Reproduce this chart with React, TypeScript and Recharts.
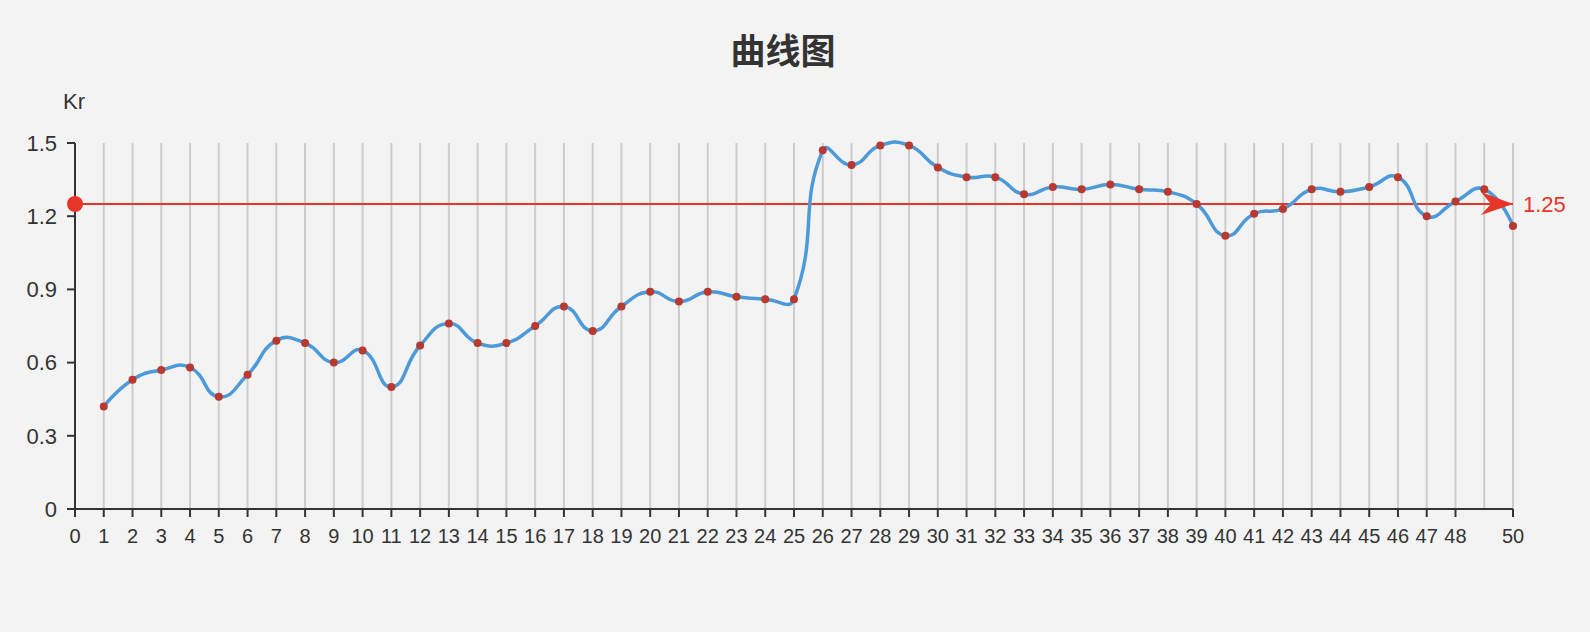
import { LineChart, Line, XAxis, YAxis, CartesianGrid, ReferenceLine, ReferenceDot } from 'recharts'

// 横轴 1..50 的测点和对应的 Kr 值
const xValues = [
    1, 2, 3, 4, 5, 6, 7, 8, 9, 10,
    11, 12, 13, 14, 15, 16, 17, 18, 19, 20,
    21, 22, 23, 24, 25, 26, 27, 28, 29, 30,
    31, 32, 33, 34, 35, 36, 37, 38, 39, 40,
    41, 42, 43, 44, 45, 46, 47, 48, 49, 50,
]
const krValues = [
    0.42, 0.53, 0.57, 0.58, 0.46, 0.55, 0.69, 0.68, 0.6, 0.65,
    0.5, 0.67, 0.76, 0.68, 0.68, 0.75, 0.83, 0.73, 0.83, 0.89,
    0.85, 0.89, 0.87, 0.86, 0.86, 1.47, 1.41, 1.49, 1.49, 1.4,
    1.36, 1.36, 1.29, 1.32, 1.31, 1.33, 1.31, 1.3, 1.25, 1.12,
    1.21, 1.23, 1.31, 1.3, 1.32, 1.36, 1.2, 1.26, 1.31, 1.16,
]
const xTicks = [
    0, 1, 2, 3, 4, 5, 6, 7, 8, 9, 10,
    11, 12, 13, 14, 15, 16, 17, 18, 19, 20,
    21, 22, 23, 24, 25, 26, 27, 28, 29, 30,
    31, 32, 33, 34, 35, 36, 37, 38, 39, 40,
    41, 42, 43, 44, 45, 46, 47, 48, 49, 50,
]
const hiddenXTicks = [49]
const yTicks = [0, 0.3, 0.6, 0.9, 1.2, 1.5]
const markValue = 1.25

const data = xValues.map((x, i) => ({ x, kr: krValues[i] }))

const AXIS = '#333333'
const RED = '#e8352a'
const FONT = '"Liberation Sans", Arial, sans-serif'
const TICK_LEN = 8
const TICK_GAP = 12

// echarts 风格的平滑曲线 (smooth = 0.5)
const smoothCurve = (context: any) => {
    let pts: number[][] = []
    return {
        areaStart() {},
        areaEnd() {},
        lineStart() { pts = [] },
        point(x: number, y: number) { pts.push([+x, +y]) },
        lineEnd() {
            const n = pts.length
            if (!n) return
            context.moveTo(pts[0][0], pts[0][1])
            const cpIn: number[][] = []
            const cpOut: number[][] = []
            for (let i = 0; i < n; i++) {
                const p = pts[i]
                if (i === 0 || i === n - 1) {
                    cpIn[i] = p
                    cpOut[i] = p
                    continue
                }
                const prev = pts[i - 1]
                const next = pts[i + 1]
                const vx = (next[0] - prev[0]) * 0.5
                const vy = (next[1] - prev[1]) * 0.5
                let d0 = Math.hypot(p[0] - prev[0], p[1] - prev[1])
                let d1 = Math.hypot(next[0] - p[0], next[1] - p[1])
                const sum = d0 + d1
                if (sum) { d0 /= sum; d1 /= sum }
                cpIn[i] = [p[0] - vx * d0, p[1] - vy * d0]
                cpOut[i] = [p[0] + vx * d1, p[1] + vy * d1]
            }
            for (let i = 1; i < n; i++) {
                context.bezierCurveTo(cpOut[i - 1][0], cpOut[i - 1][1], cpIn[i][0], cpIn[i][1], pts[i][0], pts[i][1])
            }
        },
    }
}

const XTick = (props: any) => {
    const { x, y, payload } = props
    if (hiddenXTicks.includes(payload.value)) return <g />
    return (
        <g>
            <line x1={x} x2={x} y1={y - TICK_GAP - TICK_LEN} y2={y - TICK_GAP} stroke={AXIS} strokeWidth={2} />
            <text x={x} y={y} dy="0.71em" textAnchor="middle" fontSize={20} fill={AXIS} fontFamily={FONT}>
                {payload.value}
            </text>
        </g>
    )
}

const Arrow = (props: any) => {
    const { cx, cy } = props
    return (
        <path
            d={`M${cx},${cy} L${cx - 32},${cy - 12} L${cx - 22},${cy} L${cx - 32},${cy + 11} Z`}
            fill={RED}
        />
    )
}

export default function App() {
    return (
        <div style={{ position: 'absolute', left: 0, top: 0, width: 1590, height: 632, background: '#f3f3f3' }}>
            <svg width={1590} height={120} style={{ position: 'absolute', left: 0, top: 0 }}>
                <text x={783} y={64} textAnchor="middle" fontSize={35} fontWeight="bold" fill={AXIS}
                    fontFamily='"Noto Sans CJK SC", sans-serif'>曲线图</text>
                <text x={74} y={109} textAnchor="middle" fontSize={22} fill={AXIS} fontFamily={FONT}>Kr</text>
            </svg>
            <LineChart width={1590} height={632} data={data} margin={{ top: 143, right: 77, bottom: 93, left: 0 }}
                style={{ position: 'absolute', left: 0, top: 0 }}>
                <CartesianGrid vertical={true} horizontal={false} stroke="#cccccc" strokeWidth={2} />
                <XAxis
                    type="number"
                    dataKey="x"
                    domain={[0, 50]}
                    ticks={xTicks}
                    interval={0}
                    height={30}
                    tickLine={false}
                    tickSize={TICK_LEN}
                    tickMargin={TICK_GAP}
                    tick={<XTick />}
                    axisLine={{ stroke: AXIS, strokeWidth: 2 }}
                />
                <YAxis
                    type="number"
                    domain={[0, 1.5]}
                    ticks={yTicks}
                    interval={0}
                    width={75}
                    tickSize={TICK_LEN}
                    tickMargin={10}
                    tickLine={{ stroke: AXIS, strokeWidth: 2 }}
                    axisLine={{ stroke: AXIS, strokeWidth: 2 }}
                    tick={{ fill: AXIS, fontSize: 22, fontFamily: FONT }}
                />
                <ReferenceLine
                    y={markValue}
                    stroke={RED}
                    strokeWidth={2}
                    label={{ value: '1.25', position: 'right', offset: 10, fill: RED, fontSize: 22, fontFamily: FONT }}
                />
                <Line
                    type={smoothCurve as any}
                    dataKey="kr"
                    stroke="#4d9ad9"
                    strokeWidth={3.5}
                    dot={{ r: 4, fill: '#b8392f', stroke: '#b8392f', strokeWidth: 0 }}
                    activeDot={false}
                    isAnimationActive={false}
                />
                <ReferenceDot x={0} y={markValue} r={8} fill={RED} stroke="none" />
                <ReferenceDot x={50} y={markValue} shape={<Arrow />} />
            </LineChart>
        </div>
    )
}
